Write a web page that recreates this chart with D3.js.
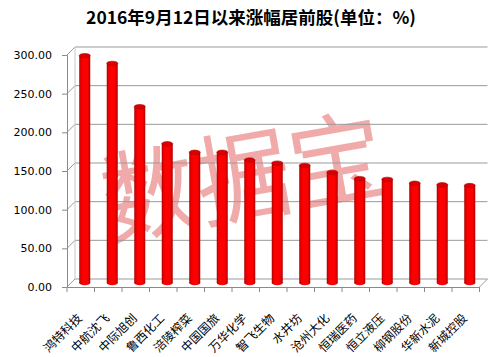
<!DOCTYPE html>
<html>
<head>
<meta charset="utf-8">
<script src="https://cdnjs.cloudflare.com/ajax/libs/d3/7.8.5/d3.min.js"></script>
<style>
  body { margin: 0; background: #fff; }
  svg { display: block; }
</style>
</head>
<body>
<div id="chart"></div>
<script>
const stocks = ['鸿特科技', '中航沈飞', '中际旭创', '鲁西化工', '涪陵榨菜', '中国国旅', '万华化学',
  '智飞生物', '水井坊', '沧州大化', '恒瑞医药', '恒立液压', '柳钢股份', '华新水泥', '新城控股'];
const gains = [294, 284, 228, 180, 169, 169, 159, 155, 152, 143, 135, 134, 129, 127, 126];
const yTicks = [0, 50, 100, 150, 200, 250, 300];

const width = 494, height = 357;
const depth = 8; // 3d offset of the back wall

const svg = d3.select('#chart')
  .append('svg')
  .attr('width', width)
  .attr('height', height);

const x = d3.scaleBand()
  .domain(stocks)
  .range([67, 479.5])
  .paddingInner(0)
  .paddingOuter(0);

const y = d3.scaleLinear()
  .domain([0, 300])
  .range([287, 55]);

const defs = svg.append('defs');
const grad = defs.append('linearGradient')
  .attr('id', 'cyl')
  .attr('x1', '0%').attr('x2', '100%')
  .attr('y1', '0%').attr('y2', '0%');
grad.append('stop').attr('offset', '0%').attr('stop-color', '#a00000');
grad.append('stop').attr('offset', '14%').attr('stop-color', '#e80000');
grad.append('stop').attr('offset', '35%').attr('stop-color', '#ff0000');
grad.append('stop').attr('offset', '75%').attr('stop-color', '#fa0000');
grad.append('stop').attr('offset', '100%').attr('stop-color', '#b00000');

// title
svg.append('text')
  .attr('x', 251)
  .attr('y', 24)
  .attr('text-anchor', 'middle')
  .style('font-family', '"Noto Sans CJK SC", sans-serif')
  .style('font-size', '17.5px')
  .style('font-weight', 'bold')
  .style('fill', '#000')
  .text('2016年9月12日以来涨幅居前股(单位：%)');

const x0 = x.range()[0], x1 = x.range()[1];

// watermark behind the bars
svg.append('text')
  .attr('transform', 'translate(243,178) rotate(-10)')
  .attr('y', 36)
  .attr('text-anchor', 'middle')
  .attr('textLength', 285)
  .attr('lengthAdjust', 'spacingAndGlyphs')
  .style('font-family', '"Noto Sans CJK SC", sans-serif')
  .style('font-size', '100px')
  .style('fill', '#f0aaaa')
  .text('数据宝');

// back wall grid lines
const grid = svg.append('g').attr('class', 'grid');
grid.selectAll('line.back')
  .data(yTicks)
  .enter()
  .append('line')
  .attr('x1', x0 + depth)
  .attr('x2', x1 + depth)
  .attr('y1', d => y(d) - depth)
  .attr('y2', d => y(d) - depth)
  .attr('stroke', '#9a9a9a')
  .attr('stroke-width', 1);

// side wall diagonals
grid.selectAll('line.side')
  .data(yTicks)
  .enter()
  .append('line')
  .attr('x1', x0)
  .attr('x2', x0 + depth)
  .attr('y1', d => y(d))
  .attr('y2', d => y(d) - depth)
  .attr('stroke', '#9a9a9a');

grid.append('line')
  .attr('x1', x0 + depth).attr('x2', x0 + depth)
  .attr('y1', y(0) - depth).attr('y2', y(300) - depth)
  .attr('stroke', '#c8c8c8');

// floor
grid.append('line')
  .attr('x1', x1).attr('y1', y(0))
  .attr('x2', x1 + depth).attr('y2', y(0) - depth)
  .attr('stroke', '#9a9a9a');

// left axis
const yAxis = svg.append('g')
  .attr('transform', `translate(${x0},0)`)
  .call(d3.axisLeft(y).tickValues(yTicks).tickSize(5).tickPadding(10).tickFormat(d3.format('.2f')));
yAxis.select('.domain').attr('stroke', '#8a8a8a');
yAxis.selectAll('.tick line').attr('stroke', '#8a8a8a');
yAxis.selectAll('text')
  .style('font-family', '"DejaVu Sans", sans-serif')
  .style('font-size', '11px')
  .style('fill', '#000');

// bottom axis
const xAxis = svg.append('g')
  .attr('transform', `translate(0,${y(0)})`)
  .call(d3.axisBottom(x).tickSize(0).tickFormat(''));
xAxis.select('.domain').attr('stroke', '#8a8a8a');

svg.append('g')
  .selectAll('line')
  .data(d3.range(stocks.length + 1))
  .enter()
  .append('line')
  .attr('x1', i => x0 + i * x.step())
  .attr('x2', i => x0 + i * x.step())
  .attr('y1', y(0))
  .attr('y2', y(0) + 5)
  .attr('stroke', '#8a8a8a');

// cylinders, sitting half way into the depth
const half = depth / 2;
const bw = 11, ry = 2.2;
const bars = svg.append('g')
  .selectAll('g.bar')
  .data(stocks.map((s, i) => ({ name: s, value: gains[i] })))
  .enter()
  .append('g')
  .attr('class', 'bar');

bars.append('ellipse')
  .attr('cx', d => x(d.name) + x.bandwidth() / 2 + half)
  .attr('cy', y(0) - half)
  .attr('rx', bw / 2)
  .attr('ry', ry)
  .attr('fill', 'url(#cyl)');

bars.append('rect')
  .attr('x', d => x(d.name) + x.bandwidth() / 2 + half - bw / 2)
  .attr('y', d => y(d.value) - half)
  .attr('width', bw)
  .attr('height', d => y(0) - y(d.value))
  .attr('fill', 'url(#cyl)');

bars.append('ellipse')
  .attr('cx', d => x(d.name) + x.bandwidth() / 2 + half)
  .attr('cy', d => y(d.value) - half)
  .attr('rx', bw / 2)
  .attr('ry', ry)
  .attr('fill', '#d80000')
  .attr('stroke', '#b00000')
  .attr('stroke-width', 0.6);

// category labels
svg.append('g')
  .selectAll('text')
  .data(stocks)
  .enter()
  .append('text')
  .attr('transform', d => `translate(${x(d) + x.bandwidth() / 2 + 2},${y(0) + 32}) rotate(-45)`)
  .attr('text-anchor', 'end')
  .style('font-family', '"Noto Sans CJK SC", sans-serif')
  .style('font-size', '12px')
  .style('fill', '#000')
  .text(d => d);
</script>
</body>
</html>
